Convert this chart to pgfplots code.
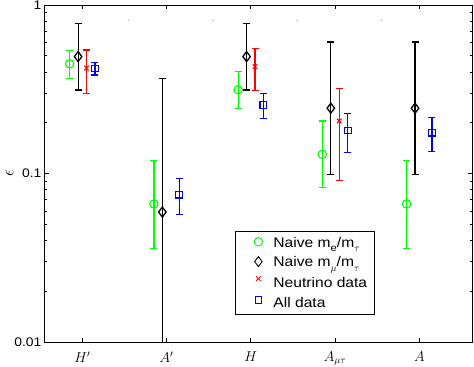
\documentclass[border=0pt]{standalone}
\usepackage{fontspec}
\setmainfont{Liberation Sans}[FakeStretch=1.12]
\usepackage{pgfplots}
\pgfplotsset{compat=1.18}
\definecolor{mgreen}{rgb}{0,1,0}
\definecolor{mblue}{rgb}{0,0,1}
\definecolor{mred}{rgb}{1,0,0}
\newcommand{\sub}[1]{\raisebox{-0.6ex}{\fontsize{10}{10}\selectfont #1}}
\newcommand{\dstrut}{\rule[-10bp]{0pt}{0pt}}
\pgfplotsset{
  limg/.style={legend image code/.code={\path[draw=none,fill=none] (-23bp,0bp) -- (15bp,0bp);
     \draw[##1, line width=0.9bp] plot coordinates {(0bp,#1)};}},
}
\begin{document}
\begin{tikzpicture}
\begin{axis}[
  name=ax,
  scale only axis,
  width=427bp, height=337bp,
  ymode=log,
  xmin=0.557, xmax=5.626,
  ymin=0.01, ymax=1,
  xtick={1,2,3,4,5},
  xticklabels={$H'$,$A'$,$H$,$A_{\mu\tau}$,$A$},
  ytick={0.01,0.1,1},
  yticklabels={0.01,0.1,1},
  ylabel={$\epsilon$},
  ylabel style={font=\fontsize{16}{18}\selectfont, yshift=-6bp},
  tick align=inside,
  major tick length=4bp,
  minor tick length=2.5bp,
  axis line style={line width=1bp},
  every tick/.style={black, line width=0.7bp},
  tick label style={font=\fontsize{12.5}{14}\selectfont},
  x tick label style={yshift=-6bp, font=\fontsize{14}{16}\selectfont},
  clip=true,
  legend cell align=left,
  legend style={at={(0.445,0.08)}, anchor=south west, draw=black, line width=0.8bp,
    font=\fontsize{14}{16}\selectfont, row sep=8bp, column sep=0bp,
    inner xsep=0bp, inner ysep=6bp, nodes={inner sep=0bp}},
  error bars/y dir=both,
  error bars/y explicit,
]
\addplot[only marks, color=gray!60, mark=*, mark size=0.5bp, forget plot] coordinates {
(1.55,0.81) (2.55,0.81) (3.55,0.81) (4.55,0.81)};
\addplot[only marks, color=mgreen, mark=o, mark size=4.2bp, line width=1.1bp, limg=1bp,
  error bars/error bar style={mgreen, line width=1.2bp},
  error bars/error mark options={rotate=90, mark size=3.5bp, line width=1.2bp, mgreen}]
  table[x=x, y=y, y error plus=ep, y error minus=em] {
x y ep em
0.85 0.448 0.087 0.082
1.85 0.066 0.054 0.030
2.85 0.314 0.091 0.072
3.85 0.130 0.075 0.047
4.85 0.066 0.054 0.030
};
\addlegendentry{Naive m\sub{e}/m\sub{$\tau$}\dstrut\hspace*{7bp}}
\addplot[only marks, color=black, mark=diamond, mark size=5bp, line width=1.3bp, limg=1bp,
  error bars/error bar style={black, line width=1.2bp},
  error bars/error mark options={rotate=90, mark size=3.5bp, line width=1.2bp, black}]
  table[x=x, y=y, y error plus=ep, y error minus=em] {
x y ep em
0.95 0.494 0.286 0.181
1.95 0.059 0.306 0.0585
2.95 0.494 0.286 0.181
3.95 0.244 0.360 0.145
4.95 0.244 0.360 0.145
};
\addlegendentry{Naive m\sub{$\mu$}/m\sub{$\tau$}\dstrut\hspace*{7bp}}
\addplot[only marks, color=mred, mark=x, mark size=3.2bp, line width=1.1bp, limg=4.5bp,
  error bars/error bar style={mred, line width=1.2bp},
  error bars/error mark options={rotate=90, mark size=3.5bp, line width=1.2bp, mred}]
  table[x=x, y=y, y error plus=ep, y error minus=em] {
x y ep em
1.05 0.422 0.118 0.122
3.05 0.431 0.123 0.120
4.05 0.205 0.113 0.114
};
\addlegendentry{Neutrino data\hspace*{7bp}}
\addplot[only marks, color=mblue, mark=square, mark size=3.4bp, line width=1.1bp, limg=2.5bp,
  error bars/error bar style={mblue, line width=1.2bp},
  error bars/error mark options={rotate=90, mark size=3.5bp, line width=1.2bp, mblue}]
  table[x=x, y=y, y error plus=ep, y error minus=em] {
x y ep em
1.15 0.420 0.038 0.036
2.15 0.075 0.018 0.018
3.15 0.256 0.044 0.043
4.15 0.180 0.046 0.047
5.15 0.175 0.041 0.040
};
\addlegendentry{All data\hspace*{7bp}}
\end{axis}
\pgfresetboundingbox
\path ([xshift=-45bp,yshift=-25bp]ax.south west) rectangle ([xshift=2bp,yshift=5bp]ax.north east);
\end{tikzpicture}
\end{document}
